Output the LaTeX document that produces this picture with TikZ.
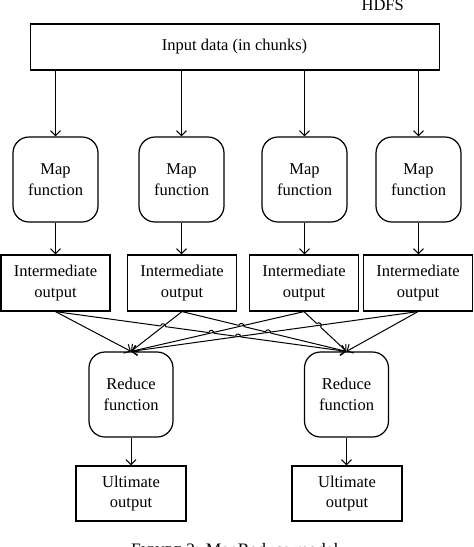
\documentclass[tikz,border=0pt]{standalone}
\usepackage{fontspec}
\setmainfont{Liberation Serif}
\usetikzlibrary{arrows.meta,calc,intersections}
\newcommand\hoperase[2]{\draw[white,line width=1.9pt] ($(#1)!-2.6pt!(#2)$) -- ($(#1)!2.6pt!(#2)$);}
\newcommand\hopdraw[2]{%
  \coordinate (hA) at ($(#1)!-2.6pt!(#2)$);
  \coordinate (hB) at ($(#1)!2.6pt!(#2)$);
  \draw[wire] (hA) .. controls ($(hA)!3.4pt!90:(#2)$) and ($(hB)!3.4pt!90:(#2)$) .. (hB);}
\begin{document}
\begin{tikzpicture}[x=1pt,y=-1pt,
  every node/.style={font=\fontsize{16.5}{20.5}\selectfont, align=center, inner sep=0pt},
  sqbox/.style={draw, line width=1.2pt},
  rbox/.style={draw, line width=1.2pt, rounded corners=16pt, minimum width=85pt, minimum height=85pt},
  wire/.style={line width=1pt},
  conn/.style={wire, -{Straight Barb[length=5pt,width=10pt]}},
  ]
\useasboundingbox (0,0) rectangle (474,547);

\node[anchor=base] (hdfs) at (382.7,10) {HDFS};
\node[sqbox, minimum width=409pt, minimum height=46pt] (in) at (234.6,47) {Input data (in chunks)};

\node[rbox] (m1) at (55.5,179.5) {Map\\function};
\node[rbox] (m2) at (181.5,179.5) {Map\\function};
\node[rbox] (m3) at (304.5,179.5) {Map\\function};
\node[rbox] (m4) at (418.5,179.5) {Map\\function};

\node[sqbox, minimum width=109pt, minimum height=56pt] (i1) at (55.5,283) {Intermediate\\output};
\node[sqbox, minimum width=109pt, minimum height=56pt] (i2) at (182,283) {Intermediate\\output};
\node[sqbox, minimum width=109pt, minimum height=56pt] (i3) at (304,283) {Intermediate\\output};
\node[sqbox, minimum width=109pt, minimum height=56pt] (i4) at (418,283) {Intermediate\\output};

\node[rbox, minimum width=84pt] (r1) at (131,394.5) {Reduce\\function};
\node[rbox, minimum width=84pt] (r2) at (346.5,394.5) {Reduce\\function};

\node[sqbox, minimum width=110pt, minimum height=55pt] (u1) at (131,493.5) {Ultimate\\output};
\node[sqbox, minimum width=110pt, minimum height=55pt] (u2) at (347,493.5) {Ultimate\\output};

\node[anchor=base, font=\fontsize{17.5}{20}\selectfont] (cap) at (237,555) {F{\fontsize{13.5}{15}\selectfont IGURE} 2: MapReduce model.};

\foreach \k in {1,...,4} {
  \draw[conn] (m\k.north |- in.south) -- (m\k.north);
  \draw[conn] (m\k.south) -- (m\k.south |- i\k.north);
}
\draw[conn] (r1.south) -- (r1.south |- u1.north);
\draw[conn] (r2.south) -- (r2.south |- u2.north);

% shuffle lines
\foreach \k in {1,...,4} {
  \draw[conn, name path global=b\k] (i\k.south) -- (r2.north);
  \path[name path global=a\k] (i\k.south) -- (r1.north);
}
\path[name intersections={of=b1 and a2, by=c1}];
\path[name intersections={of=b1 and a3, by=c2}];
\path[name intersections={of=b1 and a4, by=c3}];
\path[name intersections={of=b2 and a3, by=c4}];
\path[name intersections={of=b2 and a4, by=c5}];
\path[name intersections={of=b3 and a4, by=c6}];
\foreach \c in {c1,c2,c3,c4,c5,c6} { \hoperase{\c}{r2.north} }
\foreach \k in {1,...,4} { \draw[conn] (i\k.south) -- (r1.north); }
\foreach \c in {c1,c2,c3,c4,c5,c6} { \hopdraw{\c}{r2.north} }
\end{tikzpicture}
\end{document}
